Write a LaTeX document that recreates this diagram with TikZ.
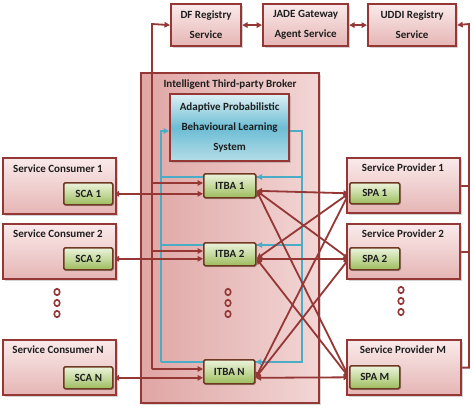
\documentclass[tikz,border=0pt]{standalone}
\usepackage{fontspec}
\setmainfont{Carlito}
\usetikzlibrary{arrows.meta,shadows,shapes.geometric}
\pgfdeclarelayer{bg}\pgfdeclarelayer{mid}\pgfsetlayers{bg,mid,main}
\definecolor{boxred}{HTML}{953735}
\definecolor{pinkA}{HTML}{FAEAEA}
\definecolor{pinkB}{HTML}{E5B5B4}
\definecolor{brokerA}{HTML}{F2D6D5}
\definecolor{brokerB}{HTML}{DFA6A4}
\definecolor{greenA}{HTML}{EBF3DC}
\definecolor{greenM}{HTML}{C6DA9E}
\definecolor{greenB}{HTML}{9CBB5C}
\definecolor{greenborder}{HTML}{6E3A22}
\definecolor{blueA}{HTML}{DDF0F5}
\definecolor{blueM}{HTML}{6CBDD4}
\definecolor{blueB}{HTML}{B5DDE8}
\definecolor{bline}{HTML}{4BACC6}
\definecolor{txt}{HTML}{1E1E1E}
\begin{document}
\begin{tikzpicture}[x=1pt,y=-1pt,
  font=\bfseries\fontsize{11}{12}\selectfont, text=txt,
  >={Triangle[length=5.5pt,width=5.5pt]},
  pbox/.style={rectangle, draw=boxred, line width=2.2pt, inner sep=0pt,
    anchor=north west, align=center, top color=pinkA, bottom color=pinkB,
    drop shadow={shadow xshift=1.5pt, shadow yshift=-1.5pt, opacity=0.35}},
  gbox/.style={rectangle, rounded corners=1.5pt, draw=greenborder, line width=1.6pt, inner sep=0pt,
    anchor=north west, top color=greenA, bottom color=greenB, middle color=greenM,
    drop shadow={shadow xshift=1.2pt, shadow yshift=-1.2pt, opacity=0.45}},
  abox/.style={rectangle, draw=boxred, line width=2.2pt, inner sep=0pt,
    anchor=north west, align=center, top color=blueA, bottom color=blueB, middle color=blueM,
    drop shadow={shadow xshift=1.5pt, shadow yshift=-1.5pt, opacity=0.35}},
  title/.style={inner sep=0pt},
  rl/.style={draw=boxred, line width=1.8pt},
  bl/.style={draw=bline, line width=1.5pt},
  dotc/.style={ellipse, draw=boxred, line width=1.6pt, minimum width=5.5pt, minimum height=6.5pt, inner sep=0pt}
]
\useasboundingbox (0,0) rectangle (474,408);

% top services
\node[pbox, minimum width=70pt, minimum height=42pt] (df) at (170,3) {DF Registry\\[8pt]Service};
\node[pbox, minimum width=85pt, minimum height=42pt] (jade) at (262,3) {JADE Gateway\\[8pt]Agent Service};
\node[pbox, minimum width=88pt, minimum height=42pt] (uddi) at (367,3) {UDDI Registry\\[8pt]Service};

% broker
\begin{pgfonlayer}{bg}
\node[rectangle, draw=boxred, line width=2.2pt, anchor=north west, minimum width=178pt, minimum height=330pt,
  shading angle=135, left color=brokerB, right color=brokerA,
  drop shadow={shadow xshift=1.5pt, shadow yshift=-1.5pt, opacity=0.3}] (broker) at (140,72) {};
\end{pgfonlayer}
\node[title] (brokert) at (230,85) {Intelligent Third-party Broker};
\node[abox, minimum width=119pt, minimum height=67pt] (ap) at (169,93)
  {Adaptive Probabilistic\\[8pt]Behavioural Learning\\[8pt]System};

\node[gbox, minimum width=52pt, minimum height=24pt] (itba1) at (203,173) {ITBA 1};
\node[gbox, minimum width=52pt, minimum height=23pt] (itba2) at (203,242) {ITBA 2};
\node[gbox, minimum width=51pt, minimum height=24pt] (itban) at (203,359) {ITBA N};

% consumers
\node[pbox, minimum width=113pt, minimum height=56pt] (sc1) at (2,157) {};
\node[title] (sc1t) at (58,169) {Service Consumer 1};
\node[gbox, minimum width=49pt, minimum height=22pt] (sca1) at (63,182) {SCA 1};
\node[pbox, minimum width=113pt, minimum height=55pt] (sc2) at (2,223) {};
\node[title] (sc2t) at (58,234) {Service Consumer 2};
\node[gbox, minimum width=49pt, minimum height=22pt] (sca2) at (63,247) {SCA 2};
\node[pbox, minimum width=113pt, minimum height=55pt] (scn) at (2,339) {};
\node[title] (scnt) at (58,350) {Service Consumer N};
\node[gbox, minimum width=49pt, minimum height=22pt] (scan) at (63,366) {SCA N};

% providers
\node[pbox, minimum width=113pt, minimum height=55pt] (sp1) at (346,157) {};
\node[title] (sp1t) at (403,168) {Service Provider 1};
\node[gbox, minimum width=50pt, minimum height=21pt] (spa1) at (349,182) {SPA 1};
\node[pbox, minimum width=113pt, minimum height=55pt] (sp2) at (346,223) {};
\node[title] (sp2t) at (403,234) {Service Provider 2};
\node[gbox, minimum width=50pt, minimum height=22pt] (spa2) at (349,247) {SPA 2};
\node[pbox, minimum width=114pt, minimum height=55pt] (spm) at (346,339) {};
\node[title] (spmt) at (403,350) {Service Provider M};
\node[gbox, minimum width=50pt, minimum height=23pt] (spam) at (349,365) {SPA M};

% dots
\foreach \yy [count=\i] in {292,303,314} {
  \node[dotc] (dl\i) at (57,\yy) {};
  \node[dotc] (dm\i) at (228,\yy) {};
  \node[dotc] (dr\i) at (401,\yy-2) {};
}

\begin{pgfonlayer}{mid}
% blue loop
\coordinate (blt) at (161,131);
\coordinate (brt) at (302,131);
\coordinate (blb) at (161,362);
\coordinate (brb) at (302,362);
\coordinate (b1l) at (161,177);
\coordinate (b1r) at (302,177);
\coordinate (b2l) at (161,245);
\coordinate (b2r) at (302,245);
\draw[bl,->] (blb) |- (ap.west |- blt);
\draw[bl] (ap.east |- brt) -| (brb) -- (blb);
\draw[bl] (b1l) -- (b1r);
\draw[bl] (b2l) -- (b2r);
\draw[bl,->] (b1r) -- (itba1.east |- b1r);
\draw[bl,->] (b2r) -- (itba2.east |- b2r);
\draw[bl,->] (brb) -- (itban.east |- brb);

% left red bus from DF
\coordinate (ltop) at (152,24);
\coordinate (lb1) at (152,183);
\coordinate (lb2) at (152,251);
\coordinate (lbn) at (152,369);
\draw[rl,->] (lbn) -- (ltop) -- (df.west);
\draw[rl,->] (lb1) -- (itba1.west |- lb1);
\draw[rl,->] (lb2) -- (itba2.west |- lb2);
\draw[rl,->] (lbn) -- (itban.west |- lbn);

% consumers to ITBA
\draw[rl,<->] (sca1.east) -- (sca1.east -| itba1.west);
\draw[rl,<->] (sca2.east) -- (sca2.east -| itba2.west);
\draw[rl,<->] (scan.east) -- (scan.east -| itban.west);

% top arrows
\draw[rl,<->] (df.east) -- (jade.west);
\draw[rl,<->] (jade.east) -- (uddi.west);

% right bus from UDDI
\coordinate (rtop) at (469,24);
\draw[rl,->] (spm.east) -| (rtop) -- (uddi.east);
\draw[rl] (sp1.east) -- (sp1.east -| rtop);
\draw[rl] (sp2.east) -- (sp2.east -| rtop);

% ITBA to SPA mesh
\coordinate (r1) at ([yshift=-5pt]itba1.east);
\coordinate (r2) at ([yshift=-4.5pt]itba2.east);
\coordinate (rn) at ([yshift=-6pt]itban.east);
\foreach \a in {r1,r2,rn} {
  \foreach \b in {spa1,spa2,spam} {
    \draw[rl,<->] (\a) -- (\b.west);
  }
}
\end{pgfonlayer}
\end{tikzpicture}
\end{document}
